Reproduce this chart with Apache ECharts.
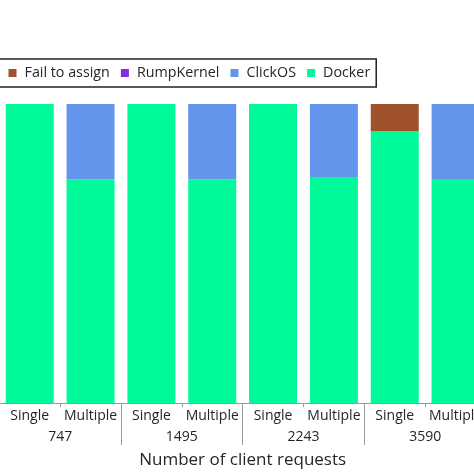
<!DOCTYPE html>
<html>
<head>
<meta charset="utf-8">
<script src="https://cdn.jsdelivr.net/npm/echarts@6/dist/echarts.min.js"></script>
<style>html,body{margin:0;padding:0;background:#fff;}#c{width:474px;height:474px;}</style>
</head>
<body>
<div id="c"></div>
<script>
var modes = ['Single', 'Multiple', 'Single', 'Multiple', 'Single', 'Multiple', 'Single', 'Multiple'];
var groups = ['747', '1495', '2243', '3590'];
var docker = [100, 74.8, 100, 74.8, 100, 75.3, 91, 74.9];
var clickos = [0, 25.2, 0, 25.2, 0, 24.7, 0, 25.1];
var rumpkernel = [0, 0, 0, 0, 0, 0, 0, 0];
var failToAssign = [0, 0, 0, 0, 0, 0, 9, 0];

var chart = echarts.init(document.getElementById('c'));
var txt = '#262626';
function bar(name, data, color) {
  return {
    name: name, type: 'bar', stack: 'all', data: data, barWidth: 48,
    xAxisIndex: 0, yAxisIndex: 0,
    itemStyle: { color: color }, emphasis: { disabled: true }
  };
}
chart.setOption({
  animation: false,
  textStyle: { fontFamily: 'Open Sans', color: txt },
  legend: {
    data: ['Fail to assign', 'RumpKernel', 'ClickOS', 'Docker'],
    left: -3, top: 59,
    padding: [7, 6, 7, 11.5],
    itemWidth: 8, itemHeight: 8, itemGap: 11,
    icon: 'rect',
    borderColor: '#222', borderWidth: 1.5, borderRadius: 0,
    textStyle: { fontSize: 14.3, color: txt, fontFamily: 'Open Sans', padding: [0, 0, 0, 3] }
  },
  grid: { left: -0.7, top: 104, width: 486.7, height: 299, outerBoundsMode: 'none', containLabel: false },
  xAxis: [
    {
      type: 'category', data: modes, position: 'bottom', gridIndex: 0,
      axisLine: { show: true, lineStyle: { color: '#9a9a9a', width: 1 } },
      axisTick: { show: true, length: 4, interval: 0, lineStyle: { color: '#9a9a9a' } },
      axisLabel: { interval: 0, margin: 6, fontSize: 14, color: txt, fontFamily: 'Open Sans' }
    },
    {
      type: 'category', data: groups, position: 'bottom', gridIndex: 0,
      axisLine: { show: false },
      axisTick: { show: true, length: 42, interval: 0, lineStyle: { color: '#9a9a9a' } },
      axisLabel: { interval: 0, margin: 27, fontSize: 14, color: txt, fontFamily: 'Open Sans' },
      name: 'Number of client requests', nameLocation: 'middle', nameGap: 49,
      nameTextStyle: { fontSize: 17, color: txt, fontFamily: 'Open Sans' }
    }
  ],
  yAxis: { type: 'value', min: 0, max: 100, show: false, splitLine: { show: false } },
  series: [
    bar('Docker', docker, '#00fa9a'),
    bar('ClickOS', clickos, '#6495ed'),
    bar('RumpKernel', rumpkernel, '#8a2be2'),
    bar('Fail to assign', failToAssign, '#a0522d')
  ]
});
</script>
</body>
</html>
